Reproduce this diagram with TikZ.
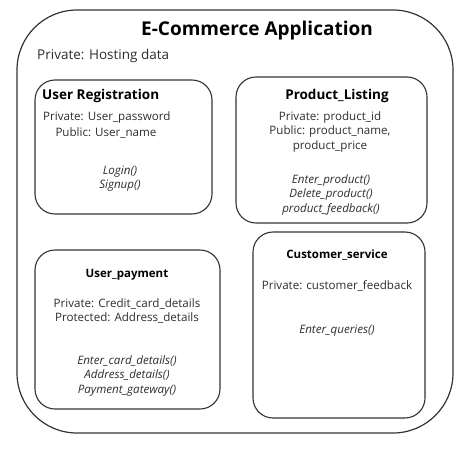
\documentclass[tikz,border=0pt]{standalone}
\usepackage{fontspec}
\setmainfont{Open Sans}
\usepackage{tikz}
\usetikzlibrary{positioning}
\definecolor{linegray}{RGB}{51,51,51}
\definecolor{txtgray}{RGB}{45,45,45}
\tikzset{
  appbox/.style={draw=linegray, line width=1.2pt, rounded corners=60pt, inner sep=0pt},
  classbox/.style={draw=linegray, line width=1.1pt, rounded corners=20pt, inner sep=0pt},
  bigttl/.style={font=\fontsize{19}{22}\selectfont\bfseries, inner sep=0pt},
  ttl/.style={font=\fontsize{13.5}{16}\selectfont\bfseries, inner sep=0pt},
  smallttl/.style={font=\fontsize{11.5}{14}\selectfont\bfseries, inner sep=0pt},
  attr/.style={font=\fontsize{11.6}{14.5}\selectfont, text=txtgray, align=center, inner sep=0pt},
  meth/.style={font=\fontsize{11.6}{14.5}\selectfont\itshape, text=txtgray, align=center, inner sep=0pt},
}

\begin{document}
\begin{tikzpicture}[x=1pt, y=-1pt]
  \useasboundingbox (0,0) rectangle (474,455);
%---------------- outer application ----------------
  \node[appbox, minimum width=436pt, minimum height=423pt] (app) at (235,221.5) {};
  \node[bigttl] (apptitle) at (257,31) {E-Commerce Application};
  \node[attr, font=\fontsize{13.5}{16}\selectfont, anchor=west] (appattr) at (37,56) {Private: Hosting data};
%---------------- user registration ----------------
  \node[classbox, minimum width=177pt, minimum height=134pt] (reg) at (123.5,147) {};
  \node[ttl, anchor=west] (regtitle) at (42,95.5) {User Registration};
  \node[attr, anchor=west] (regpriv) at (43,117.5) {Private: User\_password};
  \node[attr] (regpub) at (106,132.5) {Public: User\_name};
  \node[meth] (regmeth) at (120,178.5) {Login()\\Signup()};
%---------------- product listing ----------------
  \node[classbox, minimum width=191pt, minimum height=146pt] (prod) at (331.5,150) {};
  \node[ttl] (prodtitle) at (337,95.5) {Product\_Listing};
  \node[attr] (prodattr) at (330,131.5) {Private: product\_id\\Public: product\_name,\\product\_price};
  \node[meth] (prodmeth) at (331,194.5) {Enter\_product()\\Delete\_product()\\product\_feedback()};
%---------------- user payment ----------------
  \node[classbox, minimum width=185pt, minimum height=159pt] (pay) at (127.5,329.5) {};
  \node[smallttl] (paytitle) at (127,274.5) {User\_payment};
  \node[attr] (payattr) at (127,311) {Private: Credit\_card\_details\\Protected: Address\_details};
  \node[meth] (paymeth) at (127,375.5) {Enter\_card\_details()\\Address\_details()\\Payment\_gateway()};
%---------------- customer service ----------------
  \node[classbox, minimum width=172pt, minimum height=186pt] (cust) at (339,325) {};
  \node[smallttl] (custtitle) at (337,255.5) {Customer\_service};
  \node[attr] (custattr) at (337,285.5) {Private: customer\_feedback};
  \node[meth] (custmeth) at (337,330.5) {Enter\_queries()};
\end{tikzpicture}
\end{document}
